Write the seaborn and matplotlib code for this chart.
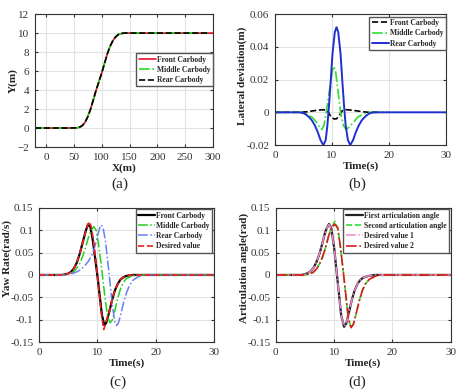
import matplotlib
matplotlib.use("Agg")
import matplotlib.pyplot as plt
import seaborn as sns

# --------------------------------------------
# Data
# --------------------------------------------
# (a) trajectory
traj_x = [-20, 0, 20, 40, 55, 60, 65, 70, 75, 80, 85, 90, 95, 100, 105, 110,
          115, 120, 125, 130, 135, 140, 145, 150, 200, 250, 290]
traj_y = [0, 0, 0, 0, 0.02, 0.08, 0.25, 0.6, 1.2, 2.0, 3.0, 4.0, 4.9, 5.8, 6.8,
          7.8, 8.6, 9.2, 9.6, 9.85, 9.95, 10, 10, 10, 10, 10, 10]
traj_x_front = traj_x[:-1] + [300]

# (b) lateral deviation
lat_t_front = [0, 4.5, 5.5, 6.5, 7.5, 8.5, 9.2, 9.7, 10.3, 10.8, 11.3, 11.8,
               12.5, 13.5, 14.5, 15.5, 16.5, 18]
lat_front = [0, 0, 0.0003, 0.0008, 0.0013, 0.0016, 0.001, -0.002, -0.004,
             -0.004, -0.002, 0.001, 0.0016, 0.0013, 0.0008, 0.0003, 0, 0]
lat_t_middle = [0, 4.5, 5.5, 6.5, 7.3, 7.8, 8.2, 8.6, 9.0, 9.5, 10.0, 10.3,
                10.6, 11.0, 11.5, 12.0, 12.5, 13.0, 13.8, 14.5, 15.5, 16.5, 20]
lat_middle = [0, 0, -0.001, -0.003, -0.006, -0.009, -0.0105, -0.008, 0.0,
              0.012, 0.024, 0.028, 0.026, 0.015, 0.0, -0.008, -0.0105, -0.009,
              -0.006, -0.003, -0.001, 0, 0]
lat_t_rear = [0, 4.3, 5, 5.5, 6, 6.5, 7, 7.5, 8, 8.5, 8.9, 9.2, 9.5, 9.8, 10.1,
              10.5, 10.8, 11.1, 11.5, 11.8, 12.1, 12.4, 12.8, 13.2, 13.7, 14.2,
              14.7, 15.2, 15.7, 16.2, 16.7, 17.2, 30]
lat_rear = [0, 0, -0.0005, -0.0015, -0.003, -0.005, -0.008, -0.012, -0.017,
            -0.02, -0.017, -0.008, 0.005, 0.02, 0.036, 0.049, 0.052, 0.049,
            0.036, 0.02, 0.005, -0.008, -0.017, -0.02, -0.017, -0.012, -0.008,
            -0.005, -0.003, -0.0015, -0.0005, 0, 0]

# (c) yaw rate
yaw_t_front = [0, 4, 5, 5.5, 6, 6.5, 7, 7.5, 8, 8.4, 8.8, 9.2, 9.6, 10, 10.4,
               10.8, 11.2, 11.5, 12, 12.5, 13, 13.5, 14, 14.5, 15, 16, 30]
yaw_front = [0, 0, 0.003, 0.007, 0.015, 0.028, 0.048, 0.073, 0.098, 0.113,
             0.108, 0.08, 0.04, 0.0, -0.045, -0.09, -0.112, -0.108, -0.085,
             -0.058, -0.035, -0.02, -0.01, -0.005, -0.002, 0, 0]
yaw_t_middle = [0, 4.5, 5.5, 6, 6.5, 7, 7.5, 8, 8.5, 9, 9.4, 9.8, 10.2, 10.6,
                11, 11.4, 11.8, 12.2, 12.6, 13, 13.5, 14, 14.5, 15, 16, 17, 30]
yaw_middle = [0, 0, 0.004, 0.008, 0.015, 0.026, 0.042, 0.062, 0.085, 0.102,
              0.108, 0.1, 0.07, 0.03, -0.015, -0.06, -0.095, -0.107, -0.1,
              -0.08, -0.052, -0.03, -0.016, -0.008, -0.002, 0, 0]
yaw_t_rear = [0, 4.5, 5.5, 6.5, 7, 7.5, 8, 8.5, 9, 9.5, 10, 10.4, 10.7, 11,
              11.4, 11.8, 12.2, 12.6, 13, 13.3, 13.6, 14, 14.5, 15, 15.5, 16,
              17, 18, 18.5, 30]
yaw_rear = [0, 0, 0.002, 0.007, 0.011, 0.016, 0.023, 0.031, 0.043, 0.06, 0.085,
            0.105, 0.112, 0.105, 0.075, 0.03, -0.02, -0.07, -0.105, -0.113,
            -0.108, -0.09, -0.062, -0.04, -0.024, -0.013, -0.004, -0.001, 0, 0]
yaw_t_desired = [0, 4, 5, 5.5, 6, 6.5, 7, 7.5, 8, 8.4, 8.7, 9.0, 9.4, 9.8,
                 10.2, 10.6, 11.0, 11.1, 11.4, 12, 12.5, 13, 13.5, 14, 14.5,
                 15, 16, 30]
yaw_desired = [0, 0, 0.003, 0.007, 0.015, 0.028, 0.048, 0.072, 0.097, 0.113,
               0.119, 0.105, 0.07, 0.025, -0.025, -0.075, -0.115, -0.122,
               -0.11, -0.085, -0.058, -0.035, -0.02, -0.01, -0.005, -0.002,
               0, 0]

# (d) articulation angle
art_t_first = [0, 4.5, 5.5, 6, 6.5, 7, 7.5, 8, 8.5, 9.1, 9.5, 10, 10.4, 10.8,
               11.2, 11.7, 12.1, 12.6, 13, 13.5, 14, 14.5, 15, 16, 17, 30]
art_first = [0, 0, 0.004, 0.009, 0.017, 0.03, 0.048, 0.072, 0.098, 0.114,
             0.105, 0.06, 0.01, -0.04, -0.09, -0.116, -0.108, -0.08, -0.057,
             -0.035, -0.02, -0.011, -0.006, -0.002, 0, 0]
art_desired1 = [0, 0, 0.004, 0.009, 0.017, 0.03, 0.048, 0.072, 0.098, 0.113,
                0.104, 0.06, 0.01, -0.04, -0.09, -0.115, -0.108, -0.08, -0.057,
                -0.035, -0.02, -0.011, -0.006, -0.002, 0, 0]
art_t_second = [0, 5, 6, 6.5, 7, 7.5, 8, 8.5, 9, 9.5, 10.1, 10.6, 11, 11.5, 12,
                12.4, 12.9, 13.3, 13.8, 14.3, 14.8, 15.3, 16, 17, 18, 30]
art_second = [0, 0, 0.003, 0.007, 0.014, 0.025, 0.04, 0.06, 0.085, 0.105,
              0.12, 0.105, 0.07, 0.015, -0.045, -0.095, -0.118, -0.11, -0.085,
              -0.058, -0.036, -0.021, -0.01, -0.003, 0, 0]
art_desired2 = [0, 0, 0.003, 0.007, 0.014, 0.025, 0.04, 0.06, 0.085, 0.105,
                0.114, 0.105, 0.07, 0.015, -0.045, -0.095, -0.118, -0.11,
                -0.085, -0.058, -0.036, -0.021, -0.01, -0.003, 0, 0]

# --------------------------------------------
# Style
# --------------------------------------------
sns.set_style("whitegrid", {"grid.color": "#e2e2e2", "axes.edgecolor": "#333333"})
plt.rcParams["font.family"] = ["Liberation Serif", "DejaVu Serif"]
plt.rcParams["font.size"] = 8

fig = plt.figure(figsize=(4.74, 3.91), dpi=100)
ax_a = fig.add_axes([0.0738, 0.624, 0.3755, 0.340])
ax_b = fig.add_axes([0.580, 0.629, 0.361, 0.335])
ax_c = fig.add_axes([0.0823, 0.1253, 0.369, 0.343])
ax_d = fig.add_axes([0.582, 0.1253, 0.369, 0.343])

legend_kw = dict(frameon=True, fancybox=False, framealpha=1, edgecolor="#555555",
                 prop={"weight": "bold", "size": 5.5, "family": "Liberation Serif"},
                 borderpad=0.3, labelspacing=0.3, handlelength=2.2,
                 handletextpad=0.2, borderaxespad=0.0)
label_kw = dict(fontweight="bold", fontsize=8, labelpad=1, color="#222222")


def line(ax, x, y, **kw):
    sns.lineplot(x=x, y=y, ax=ax, estimator=None, sort=False, **kw)


# (a)
line(ax_a, traj_x_front, traj_y, color="#e8132b", linewidth=1.2, label="Front Carbody")
line(ax_a, traj_x, traj_y, color="#22e022", linewidth=1.2, linestyle="-.", label="Middle Carbody")
line(ax_a, traj_x, traj_y, color="black", linewidth=1.2, linestyle="--", label="Rear Carbody")
ax_a.set_xlim(-20, 300)
ax_a.set_ylim(-2, 12)
ax_a.set_xticks(range(0, 301, 50))
ax_a.set_yticks(range(-2, 13, 2))
ax_a.set_xlabel("X(m)", **label_kw)
ax_a.set_ylabel("Y(m)", **label_kw)
ax_a.yaxis.set_label_coords(-0.096, 0.5)
ax_a.legend(loc="center right", bbox_to_anchor=(1.0, 0.58), **legend_kw)

# (b)
line(ax_b, lat_t_front, lat_front, color="black", linewidth=1.2, linestyle="--", label="Front Carbody")
line(ax_b, lat_t_middle, lat_middle, color="#33dd33", linewidth=1.2, linestyle="-.", label="Middle Carbody")
line(ax_b, lat_t_rear, lat_rear, color="#1f2fd0", linewidth=1.4, label="Rear Carbody")
ax_b.set_xlim(0, 30)
ax_b.set_ylim(-0.02, 0.06)
ax_b.set_xticks([0, 10, 20, 30])
ax_b.set_yticks([-0.02, 0, 0.02, 0.04, 0.06])
ax_b.set_yticklabels(["-0.02", "0", "0.02", "0.04", "0.06"])
ax_b.set_xlabel("Time(s)", **label_kw)
ax_b.set_ylabel("Lateral deviation(m)", **label_kw)
ax_b.yaxis.set_label_coords(-0.164, 0.53)
ax_b.legend(loc="upper right", bbox_to_anchor=(1.0, 0.98), **legend_kw)

# (c)
line(ax_c, yaw_t_front, yaw_front, color="black", linewidth=1.6, label="Front Carbody")
line(ax_c, yaw_t_middle, yaw_middle, color="#22d022", linewidth=1.1, linestyle="-.", label="Middle Carbody")
line(ax_c, yaw_t_rear, yaw_rear, color="#6a7ff0", linewidth=1.1, linestyle="-.", label="Rear Carbody")
line(ax_c, yaw_t_desired, yaw_desired, color="#ee2020", linewidth=1.2, linestyle="--", label="Desired value")

# (d)
line(ax_d, art_t_first, art_first, color="#222222", linewidth=1.6, label="First articulation angle")
line(ax_d, art_t_second, art_second, color="#33dd33", linewidth=1.2, linestyle="--", label="Second articulation angle")
line(ax_d, art_t_first, art_desired1, color="#ee88cc", linewidth=1.1, linestyle="-.", label="Desired value 1")
line(ax_d, art_t_second, art_desired2, color="#dd1a1a", linewidth=1.2, linestyle="-.", label="Desired value 2")

for ax, ylab, ly in [(ax_c, "Yaw Rate(rad/s)", 0.62), (ax_d, "Articulation angle(rad)", 0.55)]:
    ax.set_xlim(0, 30)
    ax.set_ylim(-0.15, 0.15)
    ax.set_xticks([0, 10, 20, 30])
    ax.set_yticks([-0.15, -0.1, -0.05, 0, 0.05, 0.1, 0.15])
    ax.set_yticklabels(["-0.15", "-0.1", "-0.05", "0", "0.05", "0.1", "0.15"])
    ax.set_xlabel("Time(s)", **label_kw)
    ax.set_ylabel(ylab, **label_kw)
    ax.yaxis.set_label_coords(-0.154, ly)
    ax.legend(loc="upper right", bbox_to_anchor=(0.99, 0.99), **legend_kw)

for ax in [ax_a, ax_b, ax_c, ax_d]:
    ax.tick_params(direction="in", length=2.5, pad=4, labelsize=8,
                   top=True, right=True, bottom=True, left=True, colors="#333333",
                   labelcolor="#333333")
    for s in ax.spines.values():
        s.set_linewidth(0.8)

# captions
fig.text(120 / 474, 1 - 184 / 391, "(a)", ha="center", va="center", fontsize=11)
fig.text(357 / 474, 1 - 184 / 391, "(b)", ha="center", va="center", fontsize=11)
fig.text(118 / 474, 1 - 382 / 391, "(c)", ha="center", va="center", fontsize=11)
fig.text(357 / 474, 1 - 382 / 391, "(d)", ha="center", va="center", fontsize=11)

fig.savefig("out.png", dpi=100)
